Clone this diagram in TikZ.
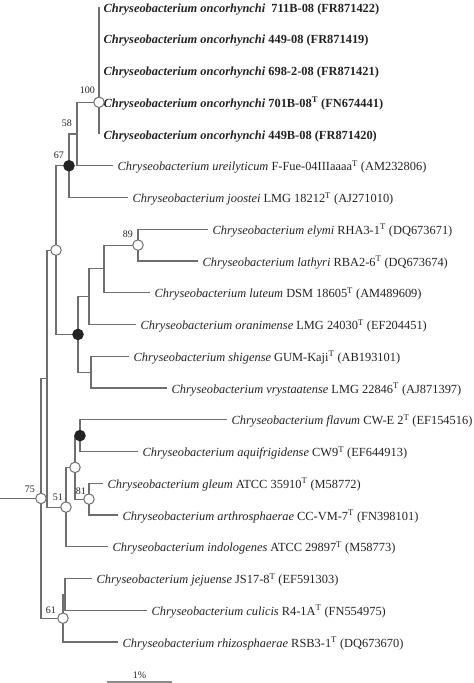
\documentclass[tikz,border=0pt]{standalone}
\usepackage{fontspec}
\setmainfont{Liberation Serif}
\usetikzlibrary{positioning}
\definecolor{ramo}{RGB}{110,110,110}
\definecolor{texto}{RGB}{35,35,35}
\newcommand{\typ}{\textsuperscript{T}}

\begin{document}
\begin{tikzpicture}[x=1pt, y=-1pt,
    branch/.style={draw=ramo, line width=1.1pt},
    leaf/.style={anchor=west, inner xsep=4.5pt, inner ysep=0pt, text height=10pt,
      text depth=0pt, text=texto, font=\fontsize{12.4}{14}\selectfont},
    onc/.style={leaf, font=\fontsize{12.4}{14}\selectfont\bfseries},
    opn/.style={circle, draw=ramo, line width=1pt, fill=white, minimum size=10.5pt, inner sep=0pt},
    fil/.style={opn, draw=texto, fill=texto},
    boot/.style={inner sep=0pt, text=texto, font=\fontsize{10}{10}\selectfont}]
    \useasboundingbox (0,0) rectangle (474,683);
    % leaves
    \node[onc](onc711) at (99,7) {\textit{Chryseobacterium oncorhynchi}\ \ 711B-08 (FR871422)};
    \node[onc](onc449) at (99,38.75) {\textit{Chryseobacterium oncorhynchi} 449-08 (FR871419)};
    \node[onc](onc698) at (99,70.5) {\textit{Chryseobacterium oncorhynchi} 698-2-08 (FR871421)};
    \node[onc](onc701) at (99,102.25) {\textit{Chryseobacterium oncorhynchi} 701B-08\typ{} (FN674441)};
    \node[onc](onc449b) at (99,134) {\textit{Chryseobacterium oncorhynchi} 449B-08 (FR871420)};
    \node[leaf](ureil) at (113,165.75) {\textit{Chryseobacterium ureilyticum} F-Fue-04IIIaaaa\typ{} (AM232806)};
    \node[leaf](joost) at (128,197.5) {\textit{Chryseobacterium joostei} LMG 18212\typ{} (AJ271010)};
    \node[leaf](elymi) at (208,229.25) {\textit{Chryseobacterium elymi} RHA3-1\typ{} (DQ673671)};
    \node[leaf](lathy) at (198,261) {\textit{Chryseobacterium lathyri} RBA2-6\typ{} (DQ673674)};
    \node[leaf](lute) at (150,292.75) {\textit{Chryseobacterium luteum} DSM 18605\typ{} (AM489609)};
    \node[leaf](orani) at (136,324.5) {\textit{Chryseobacterium oranimense} LMG 24030\typ{} (EF204451)};
    \node[leaf](shige) at (129,356.25) {\textit{Chryseobacterium shigense} GUM-Kaji\typ{} (AB193101)};
    \node[leaf](vryst) at (167,388) {\textit{Chryseobacterium vrystaatense} LMG 22846\typ{} (AJ871397)};
    \node[leaf](flavu) at (227,419.75) {\textit{Chryseobacterium flavum} CW-E 2\typ{} (EF154516)};
    \node[leaf](aquif) at (138,451.5) {\textit{Chryseobacterium aquifrigidense} CW9\typ{} (EF644913)};
    \node[leaf](gleum) at (103,483.25) {\textit{Chryseobacterium gleum} ATCC 35910\typ{} (M58772)};
    \node[leaf](arthr) at (118,515) {\textit{Chryseobacterium arthrosphaerae} CC-VM-7\typ{} (FN398101)};
    \node[leaf](indol) at (108,546.75) {\textit{Chryseobacterium indologenes} ATCC 29897\typ{} (M58773)};
    \node[leaf](jejun) at (92,578.5) {\textit{Chryseobacterium jejuense} JS17-8\typ{} (EF591303)};
    \node[leaf](culic) at (147,610.25) {\textit{Chryseobacterium culicis} R4-1A\typ{} (FN554975)};
    \node[leaf](rhizo) at (118,642) {\textit{Chryseobacterium rhizosphaerae} RSB3-1\typ{} (DQ673670)};
    % inner nodes
    \coordinate (n100) at (99,102.25);
    \coordinate (n58) at (77,134);
    \coordinate (n67) at (69,165.75);
    \coordinate (n89) at (138,245.1);
    \coordinate (n104) at (104,268.9);
    \coordinate (nora) at (89,296.7);
    \coordinate (nshi) at (91,372.1);
    \coordinate (nblk) at (78,334.4);
    \coordinate (nupp) at (56,250.1);
    \coordinate (nfla) at (80,435.6);
    \coordinate (n81) at (89,499.1);
    \coordinate (ngle) at (75,467.4);
    \coordinate (n51) at (66,507.1);
    \coordinate (nmid) at (47,378.6);
    \coordinate (njej) at (65,594.4);
    \coordinate (n61) at (63,618.2);
    \coordinate (n75) at (41,498.4);
    \coordinate (root) at (0,498.4);
    % branches
    \draw[branch] (root) -- (n75);
    \draw[branch] (n75) |- (nmid); \draw[branch] (n75) |- (n61);
    \draw[branch] (nmid) |- (nupp); \draw[branch] (nmid) |- (n51);
    \draw[branch] (nupp) |- (n67); \draw[branch] (nupp) |- (nblk);
    \draw[branch] (n67) |- (n58); \draw[branch] (n67) |- (joost);
    \draw[branch] (n58) |- (n100); \draw[branch] (n58) |- (ureil);
    \foreach \s in {onc711,onc449,onc698,onc701,onc449b}
      \draw[branch] (n100) |- (\s.west);
    \draw[branch] (nblk) |- (nora); \draw[branch] (nblk) |- (nshi);
    \draw[branch] (nora) |- (n104); \draw[branch] (nora) |- (orani);
    \draw[branch] (n104) |- (n89); \draw[branch] (n104) |- (lute);
    \draw[branch] (n89) |- (elymi); \draw[branch] (n89) |- (lathy);
    \draw[branch] (nshi) |- (shige); \draw[branch] (nshi) |- (vryst);
    \draw[branch] (n51) |- (ngle); \draw[branch] (n51) |- (indol);
    \draw[branch] (ngle) |- (nfla); \draw[branch] (ngle) |- (n81);
    \draw[branch] (nfla) |- (flavu); \draw[branch] (nfla) |- (aquif);
    \draw[branch] (n81) |- (gleum); \draw[branch] (n81) |- (arthr);
    \draw[branch] (n61) |- (njej); \draw[branch] (n61) |- (rhizo);
    \draw[branch] (njej) |- (jejun); \draw[branch] (njej) |- (culic);
    % node marks
    \node[opn] (m100) at (n100) {};
    \node[fil] (m67) at (n67) {};
    \node[opn] (m89) at (n89) {};
    \node[fil] (mblk) at (nblk) {};
    \node[opn] (mupp) at (nupp) {};
    \node[fil] (mfla) at (nfla) {};
    \node[opn] (m81) at (n81) {};
    \node[opn] (mgle) at (ngle) {};
    \node[opn] (m51) at (n51) {};
    \node[opn] (m61) at (n61) {};
    \node[opn] (m75) at (n75) {};
    % bootstrap values
    \node[boot, above left=8pt and 4pt of n100] (b100) {100};
    \node[boot, above left=7pt and 5pt of n58] (b58) {58};
    \node[boot, above left=7pt and 5pt of n67] (b67) {67};
    \node[boot, above left=7pt and 5pt of n89] (b89) {89};
    \node[boot, above left=4.5pt and 3pt of n81] (b81) {81};
    \node[boot, above left=6pt and 6pt of n75] (b75) {75};
    \node[boot, above left=6.5pt and 3pt of n51] (b51) {51};
    \node[boot, above left=4.5pt and 7pt of n61] (b61) {61};
    % scale
    \coordinate (sbl) at (107,681.5);
    \coordinate (sbr) at (172,681.5);
    \draw[draw=ramo!80, line width=2pt] (sbl) -- (sbr);
    \node[boot, anchor=south] (pct) at (139.5,679) {1\%};
  \end{tikzpicture}
\end{document}
